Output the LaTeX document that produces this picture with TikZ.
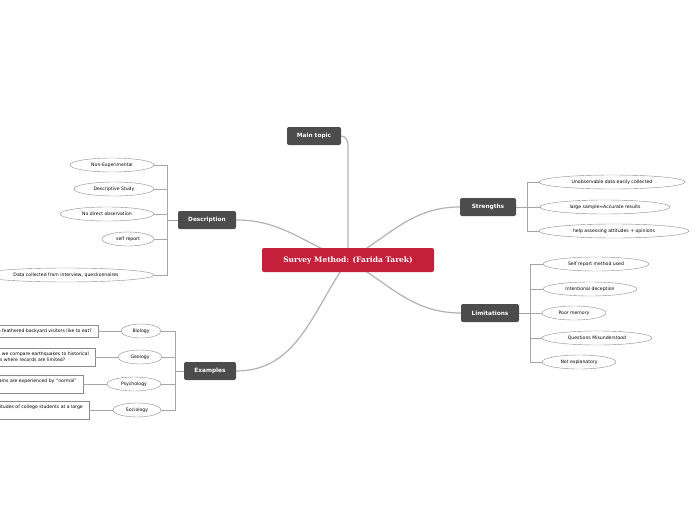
\documentclass[tikz,border=0pt]{standalone}
\usepackage{fontspec}
\setsansfont{DejaVu Sans}
\setmainfont{DejaVu Serif}
\usetikzlibrary{shapes.geometric}
\definecolor{crim}{HTML}{C41F3B}
\begin{document}
\begin{tikzpicture}[x=1pt,y=-1pt,
 topic/.style={draw=none,fill=black!70,rounded corners=2pt,text=white,font=\sffamily\bfseries\fontsize{5.8}{6}\selectfont,minimum height=18pt,inner sep=0pt},
 leaf/.style={ellipse,draw=black!45,fill=white,font=\sffamily\fontsize{4.6}{5}\selectfont,minimum height=14pt,inner sep=0pt},
 box/.style={draw=black!45,fill=white,font=\sffamily\fontsize{4.6}{5.6}\selectfont,inner xsep=6pt,inner ysep=1.5pt,anchor=east,align=left},
 br/.style={draw=black!35,line width=0.6pt},
 main/.style={draw=black!30,line width=1.2pt}]
\useasboundingbox (0,0) rectangle (697,520);
\clip (0,0) rectangle (697,520);
\coordinate (c) at (348,260);
\node[topic,minimum width=54pt] (mt) at (314,136) {Main topic};
\node[topic,minimum width=56pt] (st) at (488,207) {Strengths};
\node[topic,minimum width=58pt] (li) at (490,313) {Limitations};
\node[topic,minimum width=58pt] (de) at (207,220) {Description};
\node[topic,minimum width=52pt] (ex) at (210,371) {Examples};
\draw[main] (c) -- (348,145) to[out=90,in=0] (mt.east);
\draw[main] (c) to[out=160,in=0] (de.east);
\draw[main] (c) to[out=-125,in=0] (ex.east);
\draw[main] (c) to[out=30,in=180] (st.west);
\draw[main] (c) to[out=-30,in=180] (li.west);
\node[draw=none,fill=crim,rounded corners=2pt,text=white,font=\rmfamily\bfseries\fontsize{7.5}{8}\selectfont,minimum width=172pt,minimum height=24pt] (cen) at (348,260) {Survey Method: (Farida Tarek)};
\node[leaf,minimum width=146pt] (s1) at (612,182) {Unobservable data easily collected};
\node[leaf,minimum width=130pt] (s2) at (605,207) {large sample=Accurate results};
\node[leaf,minimum width=150pt] (s3) at (614,231) {help assessing attitudes + opinions};
\draw[br,line width=1pt] (st.east) -- (527,207);
\foreach \n in {s1,s2,s3}{\draw[br] (527,207) |- (\n.west);}
\node[leaf,minimum width=106pt] (l1) at (596,264) {Self report method used};
\node[leaf,minimum width=94pt] (l2) at (590,289) {Intentional deception};
\node[leaf,minimum width=64pt] (l3) at (574,313) {Poor memory};
\node[leaf,minimum width=110pt] (l4) at (597,338) {Questions Misunderstood};
\node[leaf,minimum width=74pt] (l5) at (579,362) {Not explanatory};
\draw[br,line width=1pt] (li.east) -- (530,313);
\foreach \n in {l1,l2,l3,l4,l5}{\draw[br] (530,313) |- (\n.west);}
\node[leaf,minimum width=84pt] (d1) at (112,165) {Non-Experimental};
\node[leaf,minimum width=80pt] (d2) at (114,189) {Descriptive Study};
\node[leaf,minimum width=94pt] (d3) at (107,214) {No direct observation};
\node[leaf,minimum width=52pt] (d4) at (128,239) {self report};
\node[leaf,minimum width=176pt] (d5) at (66,275) {Data collected from interview, questionnaires};
\draw[br,line width=1pt] (de.west) -- (167,220);
\foreach \n in {d1,d2,d3,d4,d5}{\draw[br] (167,220) |- (\n.east);}
\node[leaf,minimum width=40pt] (e1) at (141,331) {Biology};
\node[leaf,minimum width=44pt] (e2) at (140,357) {Geology};
\node[leaf,minimum width=54pt] (e3) at (134,384) {Psychology};
\node[leaf,minimum width=48pt] (e4) at (137,410) {Sociology};
\draw[br,line width=1pt] (ex.west) -- (175,371);
\foreach \n in {e1,e2,e3,e4}{\draw[br] (175,371) |- (\n.east);}
\node[box,minimum height=12pt] (b1) at (98,331) {What do feathered backyard visitors like to eat?};
\node[box,minimum height=18pt] (b2) at (95,357) {Can we compare earthquakes to historical\\ones where records are limited?};
\node[box,minimum height=18pt] (b3) at (83,384) {What dreams are experienced by "normal"\\};
\node[box,minimum height=18pt] (b4) at (89,410) {What are attitudes of college students at a large\\};
\draw[br] (e1.west) -- (b1.east);
\draw[br] (e2.west) -- (b2.east);
\draw[br] (e3.west) -- (b3.east);
\draw[br] (e4.west) -- (b4.east);
\end{tikzpicture}
\end{document}
